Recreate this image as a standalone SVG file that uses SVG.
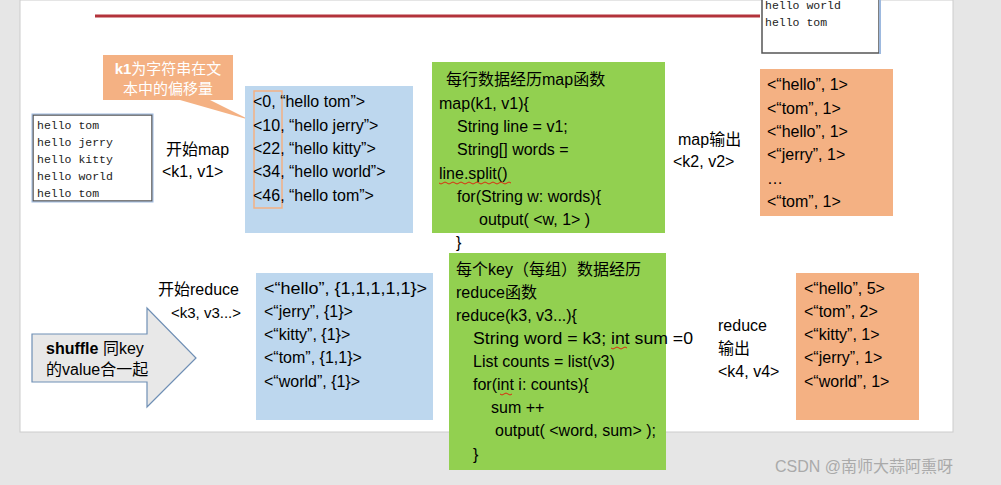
<svg xmlns="http://www.w3.org/2000/svg" width="1001" height="485" viewBox="0 0 1001 485">
<style>
text{font-family:"Liberation Sans","Noto Sans CJK SC",sans-serif;font-size:16px;fill:#000}
.m{font-family:"Liberation Mono","DejaVu Sans Mono",monospace;font-size:11.5px;fill:#222}
.blue{fill:#bdd7ee}.green{fill:#92d050}.orange{fill:#f4b183}
.sq{fill:none;stroke:#e00;stroke-width:0.8}
</style>
<rect width="1001" height="485" fill="#e6e6e6"/>
<rect x="20" y="0" width="933" height="432" fill="#fff" stroke="#ccc"/>
<line x1="95" y1="16" x2="760" y2="16" stroke="#b3333b" stroke-width="3"/>
<g id="topfile"><rect x="762" y="-2" width="117" height="55" fill="#fff" stroke="#555" stroke-width="1.5"/><line x1="880" y1="0" x2="880" y2="54" stroke="#9db9df" stroke-width="2"/>
<text class="m" x="765" y="9">hello world</text><text class="m" x="765" y="26">hello tom</text></g>
<g id="input"><rect x="33" y="115" width="119" height="86" fill="#fff" stroke="#555" stroke-width="1.5"/><rect x="32" y="114" width="121" height="88" fill="none" stroke="#9db9df" stroke-width="1"/>
<text class="m" x="37" y="129">hello tom</text><text class="m" x="37" y="146">hello jerry</text><text class="m" x="37" y="163">hello kitty</text><text class="m" x="37" y="180">hello world</text><text class="m" x="37" y="197">hello tom</text></g>
<g id="callout"><path d="M103 55H233V100H210L250 120L180 100H103Z" class="orange"/>
<text x="168" y="74" text-anchor="middle" style="fill:#fff;font-size:15px"><tspan font-weight="bold">k1</tspan>为字符串在文</text>
<text x="168" y="94" text-anchor="middle" style="fill:#fff;font-size:15px">本中的偏移量</text></g>
<g id="lbl1"><text x="166" y="155">开始map</text><text x="162" y="177">&lt;k1, v1&gt;</text></g>
<g id="mapin"><rect x="245" y="86" width="168" height="147" class="blue"/>
<rect x="254" y="91" width="28" height="117" fill="none" stroke="#f4b183" stroke-width="1.5"/>
<text x="253" y="107">&lt;0, “hello tom”&gt;</text><text x="253" y="131">&lt;10, “hello jerry”&gt;</text><text x="253" y="154">&lt;22, “hello kitty”&gt;</text><text x="253" y="177">&lt;34, “hello world”&gt;</text><text x="253" y="201">&lt;46, “hello tom”&gt;</text></g>
<g id="mapfn"><rect x="432" y="62" width="233" height="171" class="green"/>
<text x="446" y="85">每行数据经历map函数</text><text x="439" y="109">map(k1, v1){</text><text x="457" y="132">String line = v1;</text><text x="457" y="155">String[] words =</text><text x="439" y="179">line.split()</text>
<path class="sq" d="M439 183q2 2 4 0t4 0t4 0t4 0t4 0t4 0t4 0t4 0t4 0t4 0t4 0t4 0t4 0t4 0t4 0t4 0t4 0t4 0"/>
<text x="457" y="202">for(String w: words){</text><text x="479" y="225">output( &lt;w, 1&gt; )</text><text x="456" y="248">}</text></g>
<g id="lbl2"><text x="678" y="145">map输出</text><text x="673" y="167">&lt;k2, v2&gt;</text></g>
<g id="mapout"><rect x="760" y="69" width="133" height="147" class="orange"/>
<text x="767" y="90">&lt;“hello”, 1&gt;</text><text x="767" y="114">&lt;“tom”, 1&gt;</text><text x="767" y="137">&lt;“hello”, 1&gt;</text><text x="767" y="160">&lt;“jerry”, 1&gt;</text><text x="767" y="184">…</text><text x="767" y="207">&lt;“tom”, 1&gt;</text></g>
<g id="shuffle"><path d="M32 334H147V308L196 358L147 407V382H32Z" fill="#e8e8e8" stroke="#6f8fb5" stroke-width="1.2"/>
<text x="46" y="354"><tspan font-weight="bold">shuffle</tspan> 同key</text><text x="46" y="375">的value合一起</text></g>
<g id="lbl3"><text x="158" y="295">开始reduce</text><text x="171" y="318" style="font-size:15px">&lt;k3, v3...&gt;</text></g>
<g id="redin"><rect x="256" y="273" width="177" height="147" class="blue"/>
<text x="264" y="294" textLength="163" lengthAdjust="spacingAndGlyphs">&lt;“hello”, {1,1,1,1,1}&gt;</text><text x="264" y="317">&lt;“jerry”, {1}&gt;</text><text x="264" y="340">&lt;“kitty”, {1}&gt;</text><text x="264" y="363">&lt;“tom”, {1,1}&gt;</text><text x="264" y="387">&lt;“world”, {1}&gt;</text></g>
<g id="redfn"><rect x="449" y="253" width="217" height="217" class="green"/>
<text x="456" y="275">每个key（每组）数据经历</text><text x="456" y="298">reduce函数</text><text x="456" y="321">reduce(k3, v3...){</text><text x="473" y="344" textLength="220" lengthAdjust="spacingAndGlyphs">String word = k3; int sum =0</text>
<path class="sq" d="M611 348q2 2 4 0t4 0t4 0t4 0"/>
<text x="473" y="367">List counts =  list(v3)</text><text x="473" y="390">for(int i: counts){</text>
<path class="sq" d="M500 394q2 2 4 0t4 0t4 0"/>
<text x="491" y="413">sum ++</text><text x="495" y="436">output( &lt;word, sum&gt; );</text><text x="473" y="460">}</text></g>
<g id="lbl4"><text x="718" y="331">reduce</text><text x="718" y="354">输出</text><text x="718" y="377">&lt;k4, v4&gt;</text></g>
<g id="redout"><rect x="796" y="273" width="123" height="147" class="orange"/>
<text x="804" y="294">&lt;“hello”, 5&gt;</text><text x="804" y="317">&lt;“tom”, 2&gt;</text><text x="804" y="340">&lt;“kitty”, 1&gt;</text><text x="804" y="363">&lt;“jerry”, 1&gt;</text><text x="804" y="387">&lt;“world”, 1&gt;</text></g>
<g id="connectors"></g>
<text x="775" y="472" style="fill:#aaa;font-size:16px">CSDN @南师大蒜阿熏呀</text>
</svg>
